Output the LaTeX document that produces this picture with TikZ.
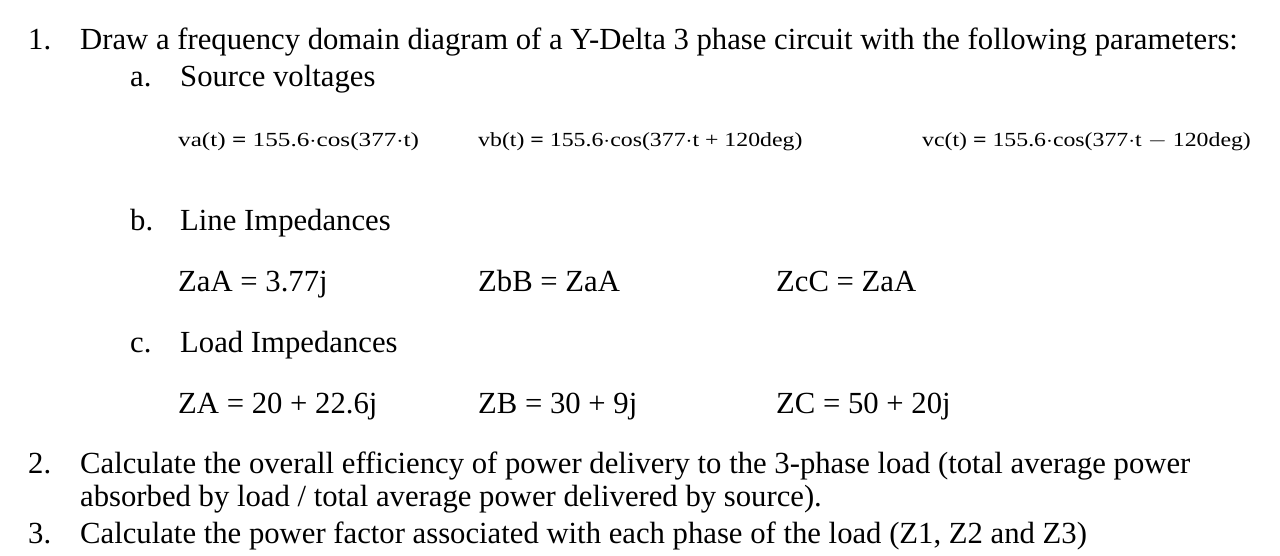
\documentclass[tikz,border=0pt]{standalone}
\usepackage{fontspec}
\setmainfont{Liberation Serif}
\begin{document}
\begin{tikzpicture}[x=1pt,y=-1pt,
  t/.style={anchor=base west,inner sep=0pt,font=\fontsize{30.7}{36}\selectfont},
  f/.style={anchor=base west,inner sep=0pt,font=\fontsize{20}{24}\selectfont}]
\useasboundingbox (0,0) rectangle (1280,556);
\node[t] (n1) at (28,50) {1.};
\node[t] (l1) at (80,50) {Draw a frequency domain diagram of a Y-Delta 3 phase circuit with the following parameters:};
\node[t] (na) at (130,87) {a.};
\node[t] (la) at (180,87) {Source voltages};
\node[f] (va) at (178,147) {\scalebox{1.26}[1]{va(t) \textbf{=} 155.6$\cdot$cos(377$\cdot$t)}};
\node[f] (vb) at (478,147) {\scalebox{1.19}[1]{vb(t) \textbf{=} 155.6$\cdot$cos(377$\cdot$t + 120deg)}};
\node[f] (vc) at (922,147) {\scalebox{1.19}[1]{vc(t) \textbf{=} 155.6$\cdot$cos(377$\cdot$t $-$ 120deg)}};
\node[t] (nb) at (130,231) {b.};
\node[t] (lb) at (180,231) {Line Impedances};
\node[t] (z1) at (178,291) {ZaA = 3.77j};
\node[t] (z2) at (478,291) {ZbB = ZaA};
\node[t] (z3) at (776,291) {ZcC = ZaA};
\node[t] (nc) at (130,352) {c.};
\node[t] (lc) at (180,352) {Load Impedances};
\node[t] (y1) at (178,413) {ZA = 20 + 22.6j};
\node[t] (y2) at (478,413) {ZB = 30 + 9j};
\node[t] (y3) at (776,413) {ZC = 50 + 20j};
\node[t] (n2) at (28,473) {2.};
\node[t] (l2) at (80,473) {Calculate the overall efficiency of power delivery to the 3-phase load (total average power};
\node[t] (l2b) at (80,506) {absorbed by load / total average power delivered by source).};
\node[t] (n3) at (28,543) {3.};
\node[t] (l3) at (80,543) {Calculate the power factor associated with each phase of the load (Z1, Z2 and Z3)};
\end{tikzpicture}
\end{document}
